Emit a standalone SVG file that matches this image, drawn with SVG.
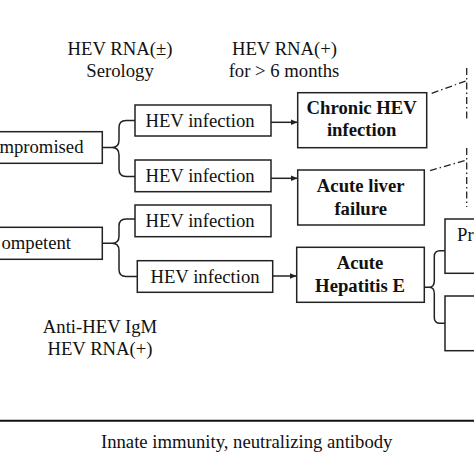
<svg xmlns="http://www.w3.org/2000/svg" width="474" height="474" viewBox="0 0 474 474">
<style>
text{font-family:"Liberation Serif","Times New Roman",serif;font-size:18.7px;fill:#111}
.b{font-weight:bold}
.m{text-anchor:middle}
.box{fill:#fff;stroke:#222;stroke-width:1.5}
.ln{fill:none;stroke:#222;stroke-width:1.5}
.dd{fill:none;stroke:#222;stroke-width:1.3;stroke-dasharray:7 3 1.5 3}
</style>
<defs>
<marker id="ah" viewBox="0 0 10 10" refX="10" refY="5" markerWidth="7" markerHeight="7" markerUnits="userSpaceOnUse" orient="auto">
<path d="M0,1 L10,5 L0,9 Z" fill="#222"/>
</marker>
</defs>
<rect width="474" height="474" fill="#fff"/>
<g id="labels">
<text class="m" x="120" y="55">HEV RNA(±)</text>
<text class="m" x="120" y="76.5">Serology</text>
<text class="m" x="284.5" y="55">HEV RNA(+)</text>
<text class="m" x="284" y="76.5">for &gt; 6 months</text>
<text class="m" x="100" y="333">Anti-HEV IgM</text>
<text class="m" x="100" y="355">HEV RNA(+)</text>
</g>
<g id="compromised">
<rect class="box" x="-10" y="131.7" width="112.3" height="31.6"/>
<text x="83.5" y="153.3" style="text-anchor:end">mpromised</text>
</g>
<g id="competent">
<rect class="box" x="-10" y="227.3" width="112.3" height="32"/>
<text x="71" y="249" style="text-anchor:end">ompetent</text>
</g>
<g id="inf1">
<rect class="box" x="135" y="105" width="136" height="31"/>
<text class="m" x="200" y="126.7">HEV infection</text>
</g>
<g id="inf2">
<rect class="box" x="135" y="160" width="136" height="31.7"/>
<text class="m" x="200" y="181.5">HEV infection</text>
</g>
<g id="inf3">
<rect class="box" x="135" y="205" width="136" height="31.7"/>
<text class="m" x="200" y="227">HEV infection</text>
</g>
<g id="inf4">
<rect class="box" x="137.3" y="260.7" width="135.4" height="31.6"/>
<text class="m" x="205" y="282.7">HEV infection</text>
</g>
<g id="chronic">
<rect class="box" x="297.7" y="92.7" width="129" height="55"/>
<text class="m b" x="361.7" y="114">Chronic HEV</text>
<text class="m b" x="361.7" y="136">infection</text>
</g>
<g id="alf">
<rect class="box" x="297.7" y="170" width="126.6" height="55"/>
<text class="m b" x="360.7" y="191.7">Acute liver</text>
<text class="m b" x="360.7" y="214.5">failure</text>
</g>
<g id="ahe">
<rect class="box" x="296.7" y="247.3" width="127.6" height="55"/>
<text class="m b" x="360" y="269.3">Acute</text>
<text class="m b" x="360" y="291.7">Hepatitis E</text>
</g>
<g id="pr">
<rect class="box" x="445" y="219" width="40" height="54.3"/>
<text x="457" y="240.5">Pr</text>
</g>
<g id="box6">
<rect class="box" x="445" y="296" width="40" height="54.7"/>
</g>
<g id="connectors">
<path class="ln" d="M102.3,147.5 H112 Q119,147.5 119,140 V127.5 Q119,120.5 126,120.5 H135 M112,147.5 Q119,147.5 119,155 V169 Q119,176.5 126,176.5 H135"/>
<path class="ln" d="M102.3,243.3 H112 Q119,243.3 119,236 V226 Q119,219 126,219 H135 M112,243.3 Q119,243.3 119,250.5 V269.5 Q119,276.5 126,276.5 H137.3"/>
<path class="ln" d="M424.3,287.3 H429 Q434.3,287.3 434.3,281 V256.5 Q434.3,250.7 440,250.7 H445 M429,287.3 Q434.3,287.3 434.3,293.5 V317.5 Q434.3,323.3 440,323.3 H445"/>
<line class="ln" x1="271" y1="122.3" x2="297.7" y2="122.3" marker-end="url(#ah)"/>
<line class="ln" x1="271" y1="178.3" x2="297.7" y2="178.3" marker-end="url(#ah)"/>
<line class="ln" x1="272.7" y1="276" x2="296.7" y2="276" marker-end="url(#ah)"/>
<path class="dd" d="M431.7,93.3 L466.7,80.7"/>
<path class="dd" d="M466.7,68 V121"/>
<path class="dd" d="M430,170.7 L466.7,160"/>
<path class="dd" d="M466.7,148 V207"/>
<line x1="0" y1="420.7" x2="474" y2="420.7" stroke="#111" stroke-width="2"/>
</g>
<g id="footer">
<text class="m" x="246.7" y="448.3">Innate immunity, neutralizing antibody</text>
</g>
</svg>
